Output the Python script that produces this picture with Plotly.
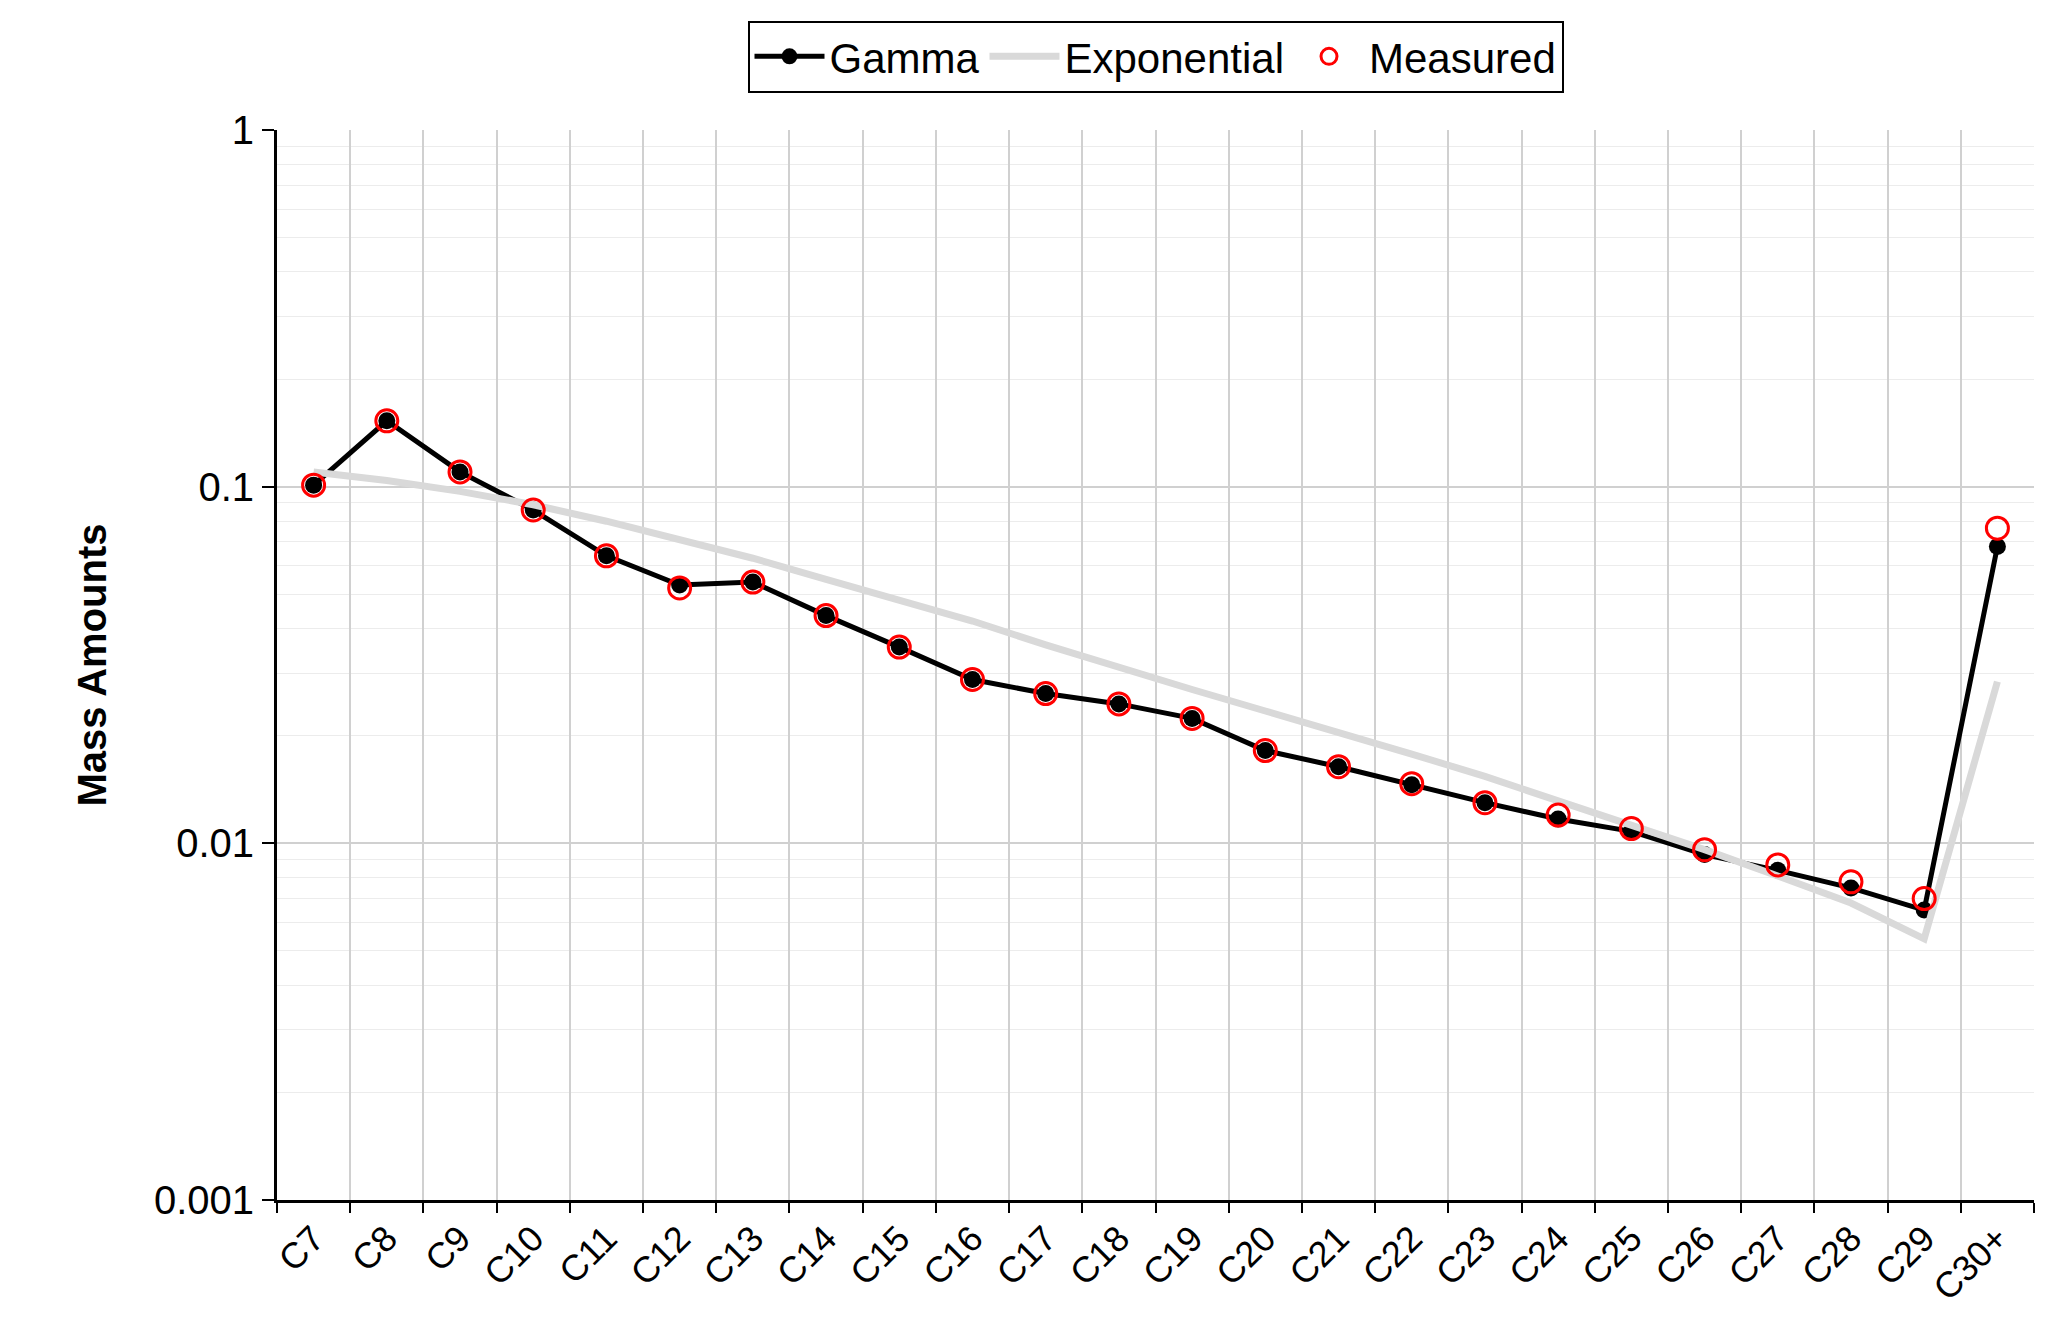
import plotly.graph_objects as go

categories = [f"C{i}" for i in range(7, 30)] + ["C30+"]
gamma = [0.101, 0.153, 0.110, 0.086, 0.064, 0.053, 0.054, 0.0435, 0.0355, 0.0288, 0.0263, 0.0246,
         0.0224, 0.0182, 0.0164, 0.0146, 0.0130, 0.0117, 0.0108, 0.0093, 0.0084, 0.0075, 0.0065, 0.068]
measured = [0.101, 0.153, 0.110, 0.086, 0.064, 0.052, 0.054, 0.0435, 0.0355, 0.0288, 0.0263, 0.0246,
            0.0224, 0.0182, 0.0164, 0.0147, 0.0130, 0.0120, 0.0110, 0.0096, 0.0087, 0.0078, 0.0070, 0.0765]
exponential = [0.110, 0.104, 0.097, 0.089, 0.080, 0.071, 0.063, 0.055, 0.048, 0.042, 0.036, 0.031,
               0.027, 0.0235, 0.0205, 0.0178, 0.0154, 0.0132, 0.0113, 0.0096, 0.0081, 0.0068, 0.0054, 0.0284]

fig = go.Figure()
fig.add_trace(go.Scatter(x=categories, y=gamma, name="Gamma", mode="lines+markers",
                         line=dict(color="black", width=5), marker=dict(color="black", size=17)))
fig.add_trace(go.Scatter(x=categories, y=exponential, name="Exponential", mode="lines",
                         line=dict(color="#d9d9d9", width=7)))
fig.add_trace(go.Scatter(x=categories, y=measured, name="Measured", mode="markers",
                         marker=dict(color="rgba(0,0,0,0)", size=22, line=dict(color="red", width=3))))

fig.update_layout(
    width=2048, height=1337, plot_bgcolor="white", paper_bgcolor="white",
    font=dict(family="Liberation Sans, Arial", size=40, color="black"),
    margin=dict(l=269, r=22, t=122, b=145),
    legend=dict(orientation="h", x=0.5, xanchor="center", y=1.035, yanchor="bottom",
                bordercolor="black", borderwidth=2, font=dict(size=42), itemwidth=70),
    showlegend=True,
)
fig.update_xaxes(type="category", tickson="boundaries", showgrid=True, gridcolor="#d0d0d0", gridwidth=2,
                 showline=True, linecolor="black", linewidth=3, ticks="outside", ticklen=10,
                 tickcolor="black", tickwidth=2, tickangle=-45, tickfont=dict(size=36),
                 range=[-0.5, 23.5])
fig.update_yaxes(type="log", range=[-3, 0], tickvals=[0.001, 0.01, 0.1, 1],
                 ticktext=["0.001", "0.01", "0.1", "1"], showgrid=True, gridcolor="#d0d0d0", gridwidth=2,
                 minor=dict(showgrid=True, gridcolor="#ececec", gridwidth=1, dtick="D1",
                            ticks="outside", ticklen=0),
                 showline=True, linecolor="black", linewidth=3, ticks="outside", ticklen=12,
                 tickcolor="black", tickwidth=2, tickfont=dict(size=40),
                 title=dict(text="<b>Mass Amounts</b>", font=dict(size=40), standoff=35))
fig.write_html("out.html")
